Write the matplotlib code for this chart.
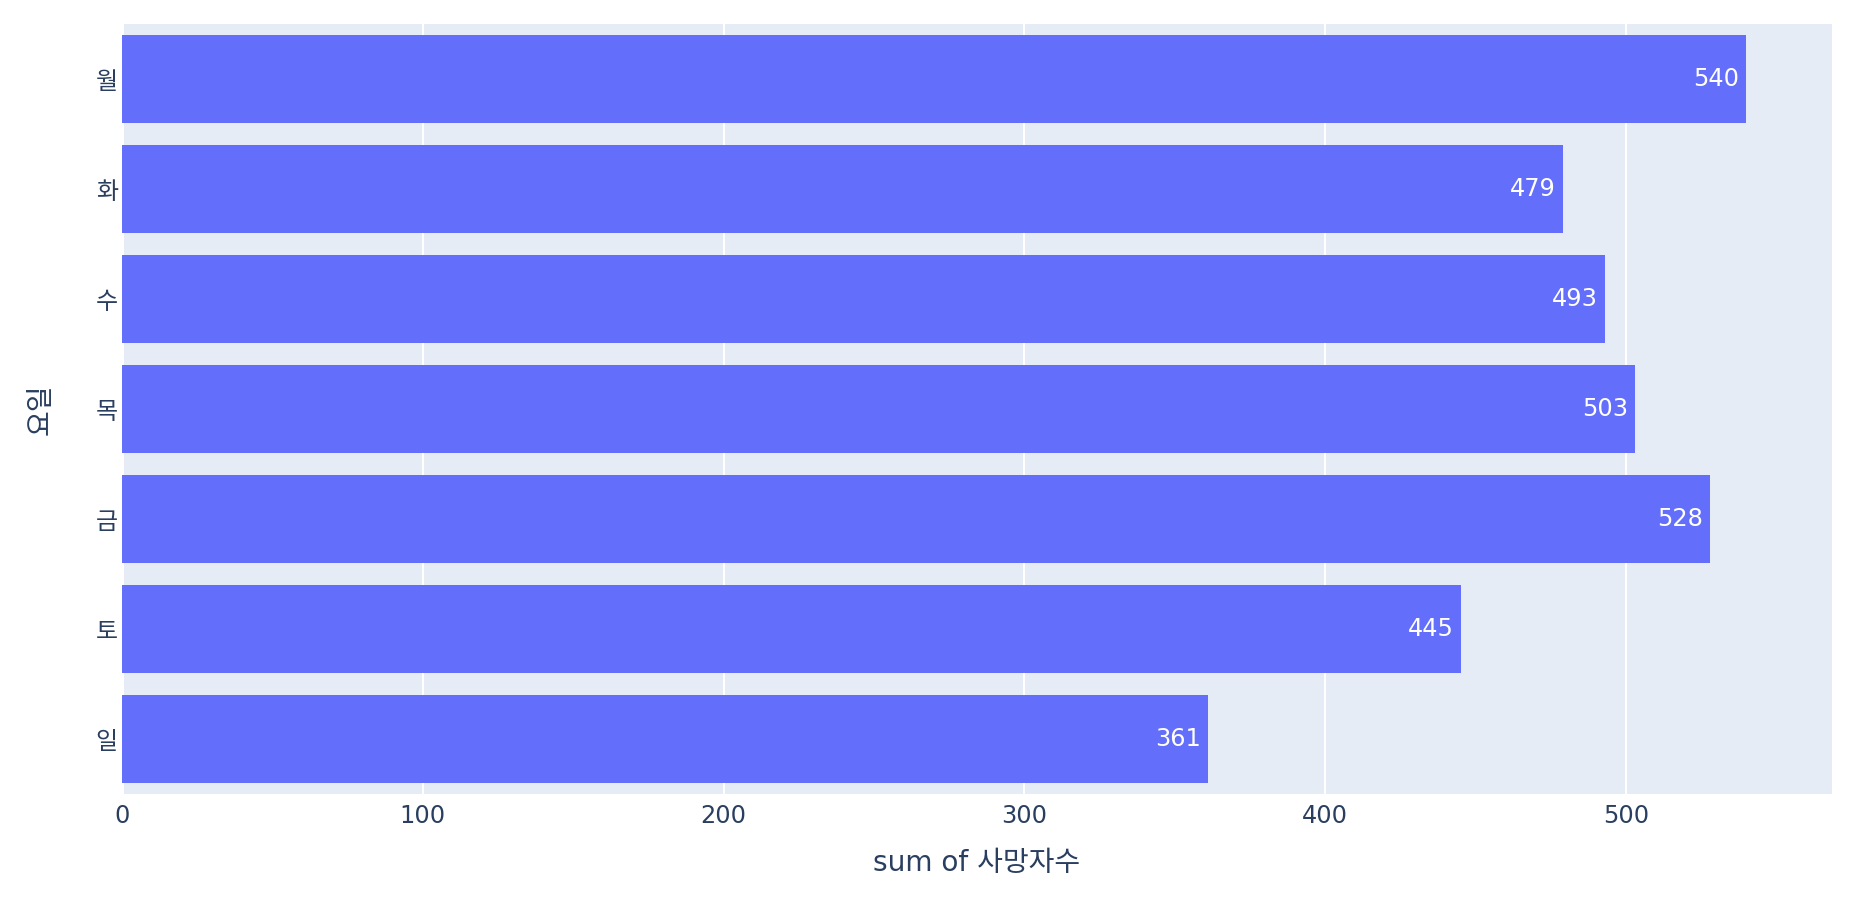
import matplotlib
matplotlib.use("Agg")
import matplotlib.pyplot as plt

plt.rcParams['font.family'] = ['DejaVu Sans', 'Noto Sans CJK KR']

# data
days = ['월', '화', '수', '목', '금', '토', '일']
deaths = [540, 479, 493, 503, 528, 445, 361]
xticks = [0, 100, 200, 300, 400, 500]

W, H = 1866, 910
bar_color = '#636efa'
bg_color = '#e5ecf6'
text_color = '#2a3f5f'

fig = plt.figure(figsize=(W / 100, H / 100), dpi=100)
ax = fig.add_axes([122 / W, 1 - 794 / H, (1832 - 122) / W, (794 - 24) / H])
ax.set_facecolor(bg_color)

for s in ax.spines.values():
    s.set_visible(False)

ypos = list(range(len(days)))
ax.barh(ypos, deaths, height=0.8, color=bar_color, zorder=3)

ax.set_xlim(0, 568.5)
ax.set_ylim(len(days) - 0.5, -0.5)

# grid + zero line
for t in xticks[1:]:
    ax.axvline(t, color='white', lw=1.44, zorder=1)
ax.axvline(0, color='white', lw=2.9, zorder=1)

# value labels inside bar end
for y, v in zip(ypos, deaths):
    ax.annotate(str(v), xy=(v, y), xytext=(-7, 0), textcoords='offset pixels',
                ha='right', va='center', color='white', fontsize=17.3, zorder=4)

ax.set_xticks(xticks)
ax.set_xticklabels([str(t) for t in xticks])
ax.set_yticks(ypos)
ax.set_yticklabels(days)
ax.tick_params(axis='both', length=0, labelsize=17.3, labelcolor=text_color)
ax.tick_params(axis='x', pad=7)
ax.tick_params(axis='y', pad=3)

fig.text((122 + 1832) / 2 / W, 1 - 863 / H, 'sum of 사망자수', ha='center', va='center',
         fontsize=20.2, color=text_color)
fig.text(41 / W, 1 - 409 / H, '요일', ha='center', va='center', rotation=90,
         fontsize=20.2, color=text_color)

fig.savefig('out.png', dpi=100)
